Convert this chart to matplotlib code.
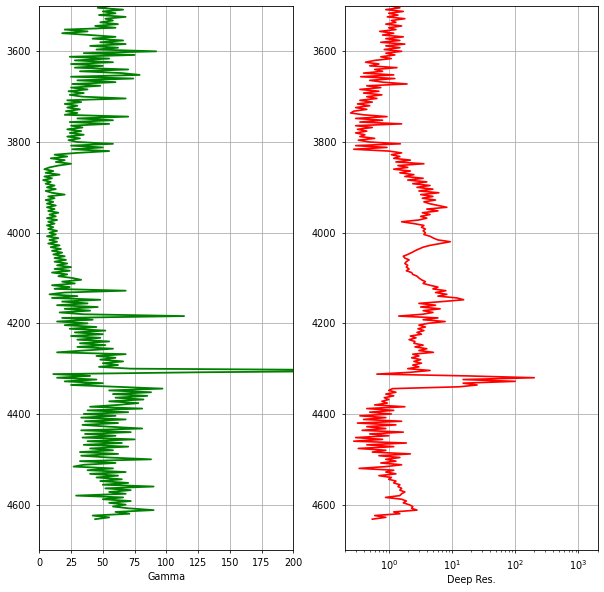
import numpy as np
import matplotlib.pyplot as plt

# well log, one sample every 4 m from 3500 m
top_depth = 3500
step = 4

gamma = [
    55, 46, 66, 50, 60, 47, 68, 52, 58, 48,
    62, 44, 60, 20, 38, 18, 40, 60, 42, 66,
    48, 68, 40, 62, 45, 92, 35, 75, 24, 55,
    28, 58, 25, 50, 28, 70, 32, 65, 79, 25,
    74, 30, 60, 26, 48, 25, 38, 23, 35, 24,
    34, 68, 22, 33, 20, 30, 22, 32, 21, 30,
    20, 70, 30, 58, 24, 55, 25, 34, 22, 33,
    24, 35, 22, 32, 23, 30, 58, 25, 50, 26,
    55, 30, 12, 22, 9, 20, 13, 25, 15, 8,
    4, 11, 5, 16, 4, 10, 3, 9, 5, 12,
    6, 13, 5, 10, 20, 7, 12, 5, 11, 6,
    13, 6, 12, 7, 15, 8, 13, 6, 14, 7,
    12, 6, 11, 7, 14, 8, 13, 6, 15, 8,
    14, 7, 16, 9, 17, 10, 18, 11, 20, 12,
    21, 12, 22, 14, 25, 12, 24, 10, 22, 15,
    26, 33, 18, 28, 10, 24, 12, 68, 20, 8,
    30, 10, 48, 18, 38, 14, 46, 20, 40, 16,
    35, 114, 18, 42, 14, 38, 20, 45, 24, 52,
    28, 50, 25, 48, 30, 55, 32, 52, 30, 58,
    35, 14, 68, 45, 60, 48, 66, 50, 62, 47,
    72, 300, 125, 11, 40, 14, 45, 20, 50, 25,
    60, 97, 55, 88, 58, 85, 60, 82, 55, 78,
    62, 40, 81, 38, 70, 35, 60, 33, 68, 36,
    62, 34, 55, 81, 33, 72, 36, 60, 34, 75,
    38, 65, 35, 70, 40, 58, 32, 62, 33, 55,
    88, 32, 60, 35, 27, 58, 38, 68, 40, 62,
    45, 65, 48, 70, 50, 90, 52, 72, 55, 68,
    29, 66, 50, 72, 55, 68, 58, 70, 90, 60,
    71, 42, 55, 44,
]

deep_res = [
    1.1, 1.5, 0.9, 1.7, 1.0, 1.4, 0.95, 1.8, 1.1, 1.3,
    0.9, 1.6, 1.0, 1.3, 0.72, 1.2, 0.8, 1.7, 0.9, 1.5,
    0.75, 1.8, 0.9, 1.5, 0.85, 1.6, 0.9, 1.25, 0.75, 1.1,
    0.6, 0.43, 0.7, 0.5, 1.35, 0.6, 0.8, 0.4, 1.2, 0.36,
    1.25, 0.5, 0.8, 1.95, 0.45, 0.75, 0.35, 0.7, 0.4, 0.78,
    0.45, 0.65, 0.35, 0.55, 0.32, 0.5, 0.3, 0.45, 0.28, 0.25,
    0.4, 0.94, 0.3, 0.8, 0.35, 1.6, 0.3, 0.55, 0.32, 0.45,
    0.3, 0.42, 0.35, 0.6, 0.33, 0.5, 1.53, 0.3, 0.94, 0.28,
    1.0, 1.6, 1.1, 1.5, 1.2, 2.2, 1.3, 3.6, 1.4, 2.0,
    1.2, 2.2, 1.5, 2.5, 1.8, 3.5, 2.0, 4.0, 2.4, 4.5,
    2.8, 5.0, 3.0, 6.2, 3.2, 5.0, 3.4, 5.5, 3.6, 4.4,
    6.0, 8.3, 4.0, 6.0, 3.4, 4.5, 3.2, 4.0, 3.0, 1.6,
    2.5, 3.6, 3.3, 3.8, 3.5, 3.8, 3.6, 4.5, 5.1, 6.0,
    9.4, 6.5, 4.5, 3.5, 3.0, 2.6, 2.3, 2.0, 1.7, 1.8,
    2.1, 1.9, 1.8, 2.0, 1.9, 2.1, 1.9, 2.3, 2.4, 2.8,
    3.0, 3.3, 3.8, 3.5, 4.5, 6.0, 5.0, 8.0, 5.5, 8.3,
    6.0, 12, 15.3, 7, 3.0, 5.5, 3.2, 6.5, 3.5, 5.0,
    3.4, 1.44, 6.0, 3.5, 7.8, 4.2, 3.0, 3.8, 2.9, 3.6,
    2.8, 3.3, 2.2, 2.7, 2.1, 2.6, 2.5, 3.5, 2.6, 4.0,
    3.0, 5.1, 2.4, 3.0, 2.3, 3.2, 2.5, 3.3, 2.4, 3.0,
    2.0, 4.5, 2.2, 0.65, 18, 200, 15, 100, 15, 25,
    13, 1.15, 1.0, 1.3, 0.9, 1.2, 0.85, 1.0, 0.78, 0.95,
    0.6, 1.8, 0.45, 1.2, 0.5, 1.1, 0.35, 0.9, 0.4, 1.6,
    0.32, 1.3, 0.45, 0.9, 0.38, 1.7, 0.5, 1.0, 0.3, 0.8,
    0.28, 1.9, 0.45, 1.2, 0.33, 0.9, 0.55, 2.2, 0.7, 1.5,
    0.9, 1.3, 0.75, 1.6, 0.9, 0.34, 1.2, 0.9, 1.3, 0.7,
    1.1, 1.0, 1.3, 1.2, 1.5, 1.4, 1.6, 1.5, 1.8, 1.6,
    1.5, 0.89, 1.6, 1.9, 1.7, 2.1, 2.4, 2.3, 2.8, 1.2,
    1.5, 0.6, 0.9, 0.55,
]

depth = top_depth + step * np.arange(len(gamma))

plt.rcParams['font.size'] = 6.9
plt.rcParams['xtick.major.size'] = 2.4
plt.rcParams['ytick.major.size'] = 2.4
plt.rcParams['xtick.minor.size'] = 1.4
plt.rcParams['xtick.major.width'] = 0.55
plt.rcParams['ytick.major.width'] = 0.55
plt.rcParams['xtick.minor.width'] = 0.45
plt.rcParams['axes.linewidth'] = 0.6

fig = plt.figure(figsize=(6.04, 5.92), dpi=100)
ax1 = fig.add_axes([39.3 / 604, 42 / 592, 254 / 604, 544 / 592])
ax2 = fig.add_axes([344.5 / 604, 42 / 592, 253 / 604, 544 / 592])

ax1.plot(gamma, depth, color='green', lw=1.3)
ax1.set_xlim(0, 200)
ax1.set_xlabel('Gamma')

ax2.plot(deep_res, depth, color='red', lw=1.2)
ax2.set_xscale('log')
ax2.set_xlim(0.2, 2000)
ax2.set_xlabel('Deep Res.')

for ax in (ax1, ax2):
    ax.set_ylim(4700, 3500)
    ax.set_yticks([3600, 3800, 4000, 4200, 4400, 4600])
    ax.grid(True, color='#b0b0b0', lw=0.6)
    ax.xaxis.labelpad = 2.5

plt.savefig('out.png', dpi=100)
